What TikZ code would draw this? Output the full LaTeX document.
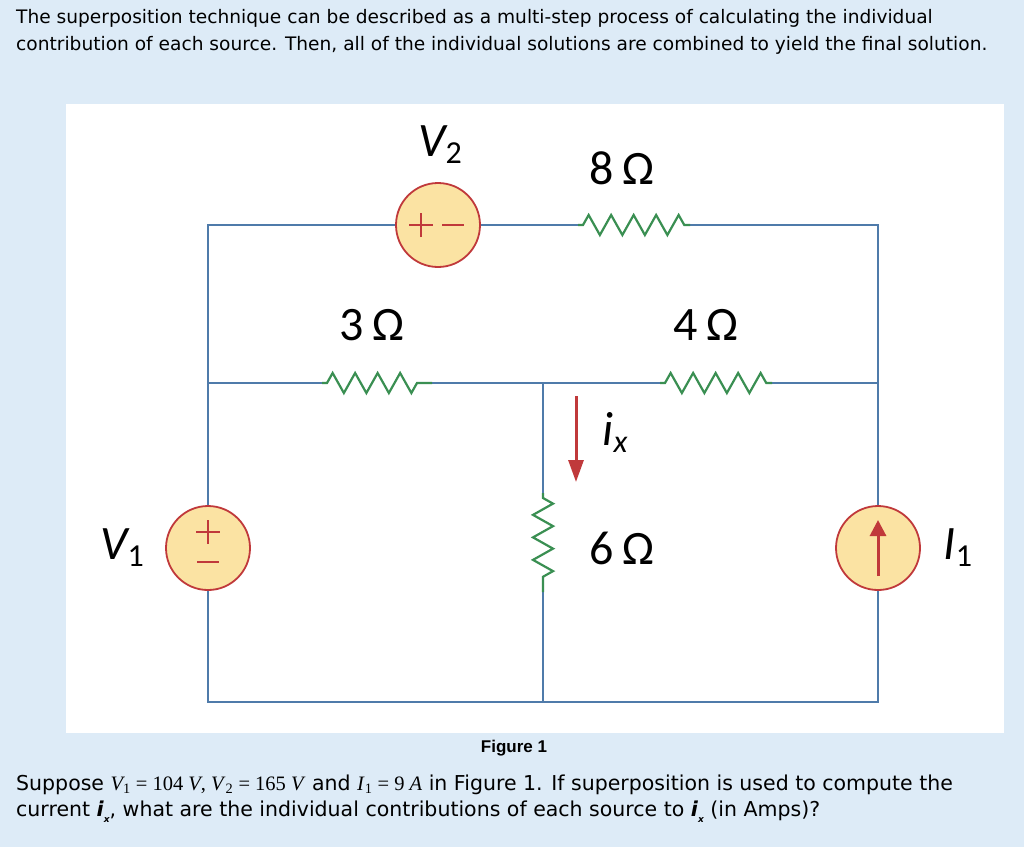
\documentclass[tikz,border=0pt]{standalone}
\usepackage{fontspec}
\setmainfont{DejaVu Sans}
\newfontfamily\lab{Carlito}
\newfontfamily\nar{Liberation Sans}
\newfontfamily\ser{Liberation Serif}
\usetikzlibrary{decorations.pathmorphing,arrows.meta}
\definecolor{bg}{HTML}{DDEBF7}
\definecolor{wire}{HTML}{4F7BAA}
\definecolor{rg}{HTML}{3A8F52}
\definecolor{srcf}{HTML}{FBE3A3}
\definecolor{srcd}{HTML}{C0393B}
\newcommand{\lsub}[1]{{\fontsize{32}{32}\selectfont\upshape\raisebox{-7pt}{#1}}}
\begin{document}
\begin{tikzpicture}[x=1pt,y=-1pt,
  w/.style={wire,line width=1.8pt},
  res/.style={rg,line width=2.2pt,decorate,decoration={zigzag,segment length=22.5pt,amplitude=10pt,pre length=5pt,post length=5pt}},
  src/.style={circle,draw=srcd,fill=srcf,line width=1.8pt,minimum size=84pt,inner sep=0pt},
  sgn/.style={srcd,line width=2.4pt},
  lbl/.style={font=\lab\fontsize{48}{48}\selectfont,inner sep=0pt},
  txt/.style={font=\fontsize{18.6}{22}\selectfont,anchor=west,inner sep=0pt},
  btxt/.style={font=\fontsize{20.5}{22}\selectfont,anchor=west,inner sep=0pt}]
\fill[bg] (0,0) rectangle (1024,847);
\fill[white] (66,104) rectangle (1004,733);
\node[txt] (t1) at (16,18) {The superposition technique can be described as a multi-step process of calculating the individual};
\node[txt] (t2) at (16,45) {contribution of each source. Then, all of the individual solutions are combined to yield the final solution.};
\coordinate (TL) at (208,225); \coordinate (TR) at (878,225);
\coordinate (ML) at (208,383); \coordinate (MM) at (543,383); \coordinate (MR) at (878,383);
\coordinate (BL) at (208,702); \coordinate (BM) at (543,702); \coordinate (BR) at (878,702);
\coordinate (r8a) at (578,225); \coordinate (r8b) at (690,225);
\coordinate (r3a) at (322,383); \coordinate (r3b) at (432,383);
\coordinate (r4a) at (660,383); \coordinate (r4b) at (772,383);
\coordinate (r6a) at (543,493); \coordinate (r6b) at (543,592);
\node[src] (V2) at (438,225) {};
\node[src] (V1) at (208,548) {};
\node[src] (I1) at (878,548) {};
\draw[w] (V2.west) -- (TL) -- (V1.north);
\draw[w] (V1.south) -- (BL) -- (BR) -- (I1.south);
\draw[w] (I1.north) -- (TR) -- (r8b);
\draw[w] (r8a) -- (V2.east);
\draw[w] (ML) -- (r3a); \draw[w] (r3b) -- (MM) -- (r4a); \draw[w] (r4b) -- (MR);
\draw[w] (MM) -- (r6a); \draw[w] (r6b) -- (BM);
\draw[res] (r8a) -- (r8b);
\draw[res] (r3a) -- (r3b);
\draw[res] (r4a) -- (r4b);
\draw[res] (r6a) -- (r6b);
\draw[sgn] ([xshift=-29pt]V2.center) -- ([xshift=-5pt]V2.center) ([xshift=-17pt,yshift=-12pt]V2.center) -- ([xshift=-17pt,yshift=12pt]V2.center) ([xshift=4pt]V2.center) -- ([xshift=26pt]V2.center);
\draw[sgn] ([yshift=28pt]V1.center) -- ([yshift=4pt]V1.center) ([xshift=-12pt,yshift=16pt]V1.center) -- ([xshift=12pt,yshift=16pt]V1.center) ([xshift=-11pt,yshift=-14pt]V1.center) -- ([xshift=11pt,yshift=-14pt]V1.center);
\draw[srcd,line width=3pt,-{Triangle[length=16pt,width=16pt]}] ([yshift=-28pt]I1.center) -- ([yshift=28pt]I1.center);
\coordinate (ia) at (576,396); \coordinate (ib) at (576,482);
\draw[srcd,line width=3pt,-{Triangle[length=22pt,width=15pt]}] (ia) -- (ib);
\node[lbl] (lV2) at (440,145) {\itshape V\lsub{2}};
\node[lbl] (l8) at (622,168) {8\,Ω};
\node[lbl] (l3) at (372,325) {3\,Ω};
\node[lbl] (l4) at (706,325) {4\,Ω};
\node[lbl] (l6) at (622,548) {6\,Ω};
\node[lbl] (lix) at (615,432) {\itshape i\lsub{\itshape x}};
\node[lbl] (lV1) at (122,548) {\itshape V\lsub{1}};
\node[lbl] (lI1) at (958,548) {\itshape I\lsub{1}};
\node[font=\nar\bfseries\fontsize{17}{20}\selectfont] (fig) at (514,748) {Figure 1};
\node[btxt] (b1) at (16,785) {Suppose {\ser\itshape V\textsubscript{\upshape 1}\upshape\ = 104 \textit{V}, \textit{V}\textsubscript{2} = 165 \textit{V}} and {\ser\textit{I}\textsubscript{1} = 9 \textit{A}} in Figure 1. If superposition is used to compute the};
\node[btxt] (b2) at (16,812) {current \textbf{\textit{i}}\raisebox{-6pt}{\small\bfseries\itshape x}, what are the individual contributions of each source to \textbf{\textit{i}}\raisebox{-6pt}{\small\bfseries\itshape x} (in Amps)?};
\end{tikzpicture}
\end{document}
